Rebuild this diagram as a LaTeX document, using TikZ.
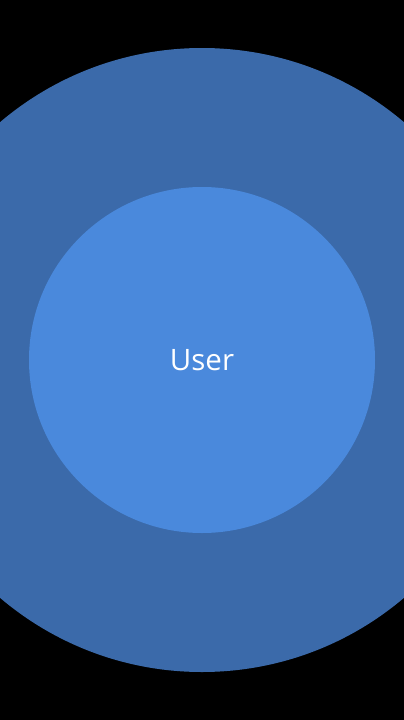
\documentclass[tikz,border=0pt]{standalone}
\usepackage{fontspec}
\setmainfont{Open Sans}
\definecolor{outerblue}{HTML}{3B6AAA}
\definecolor{innerblue}{HTML}{4A89DC}
\begin{document}
\begin{tikzpicture}[x=1pt,y=-1pt]
  % background
  \fill[black] (0,0) rectangle (404,720);
  \useasboundingbox (0,0) rectangle (404,720);

  % rings
  \fill[outerblue] (202,360) circle (312);
  \node[circle, fill=innerblue, minimum size=346pt, inner sep=0pt] (user) at (202,360) {};
  \node[text=white, font=\fontsize{29.5}{34}\selectfont] (userlabel) at (user.center) {User};
\end{tikzpicture}
\end{document}
